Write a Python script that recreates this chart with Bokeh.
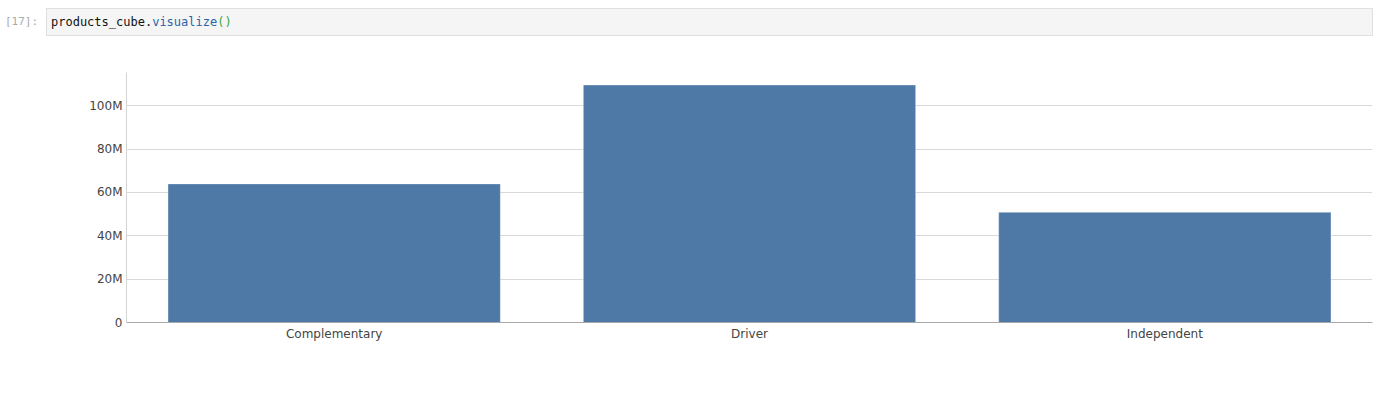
from bokeh.plotting import figure
from bokeh.models import Div, FactorRange, Range1d, FixedTicker
from bokeh.layouts import column
from bokeh.embed import file_html
from bokeh.resources import INLINE

# ---- data ----
categories = ["Complementary", "Driver", "Independent"]
values = [63.9e6, 109.5e6, 50.8e6]
yticks = [0, 20e6, 40e6, 60e6, 80e6, 100e6]
ytick_labels = ["0", "20M", "40M", "60M", "80M", "100M"]
prompt_text = "[17]:"
code_obj = "products_cube."
code_call = "visualize"
code_paren = "()"

FONT = "DejaVu Sans"
BAR = "#4e79a7"

cell = Div(
    width=1373, height=40, margin=(8, 0, 0, 0),
    text=(
        '<div style="display:flex;align-items:flex-start;width:1373px;height:40px;margin:0;'
        'box-sizing:border-box;font-family:\'DejaVu Sans Mono\',monospace;font-size:12px;">'
        '<div style="box-sizing:border-box;width:46px;flex:none;padding-left:5px;height:28px;'
        'line-height:28px;color:#aaaaaa;font-size:11px;">'
        + prompt_text +
        '</div>'
        '<div style="box-sizing:border-box;width:1327px;flex:none;height:28px;line-height:26px;'
        'background:#f5f5f5;border:1px solid #e0e0e0;padding-left:4px;color:#111;">'
        + code_obj +
        '<span style="color:#2a63a8;">' + code_call + '</span>'
        '<span style="color:#3aa53a;">' + code_paren + '</span>'
        '</div></div>'
    ),
)

p = figure(
    x_range=FactorRange(*categories, range_padding=0),
    y_range=Range1d(0, max(values) * 1.053),
    width=1373, height=360, margin=0,
    output_backend="svg", toolbar_location=None,
    min_border_left=126, min_border_right=1,
    min_border_top=24, min_border_bottom=86,
    outline_line_color=None,
    background_fill_color="white", border_fill_color="white",
)

p.vbar(x=categories, top=values, width=0.8, fill_color=BAR,
       line_color="white", line_alpha=0.5, line_width=0.6)

# y axis
ya = p.yaxis[0]
ya.ticker = FixedTicker(ticks=yticks)
ya.major_label_overrides = {t: l for t, l in zip(yticks, ytick_labels)}
ya.axis_line_color = "#d4d4d4"
ya.axis_line_width = 1
ya.major_tick_line_color = None
ya.minor_tick_line_color = None
ya.major_tick_out = 0
ya.major_tick_in = 0
ya.minor_tick_out = 0
ya.major_label_standoff = 4
ya.major_label_text_font = FONT
ya.major_label_text_font_size = "12px"
ya.major_label_text_color = "#444444"

# x axis
xa = p.xaxis[0]
xa.axis_line_color = "#a8a8a8"
xa.axis_line_width = 1.2
xa.major_tick_line_color = None
xa.minor_tick_line_color = None
xa.major_tick_out = 0
xa.major_tick_in = 0
xa.minor_tick_out = 0
xa.major_label_standoff = 4
xa.major_label_text_font = FONT
xa.major_label_text_font_size = "12px"
xa.major_label_text_color = "#444444"

p.xgrid.grid_line_color = None
p.ygrid.grid_line_color = "#d9d9d9"
p.ygrid.grid_line_width = 1
p.ygrid.ticker = FixedTicker(ticks=yticks[1:])

layout = column(cell, p, spacing=0)
open("out.html", "w").write(file_html(layout, INLINE))
